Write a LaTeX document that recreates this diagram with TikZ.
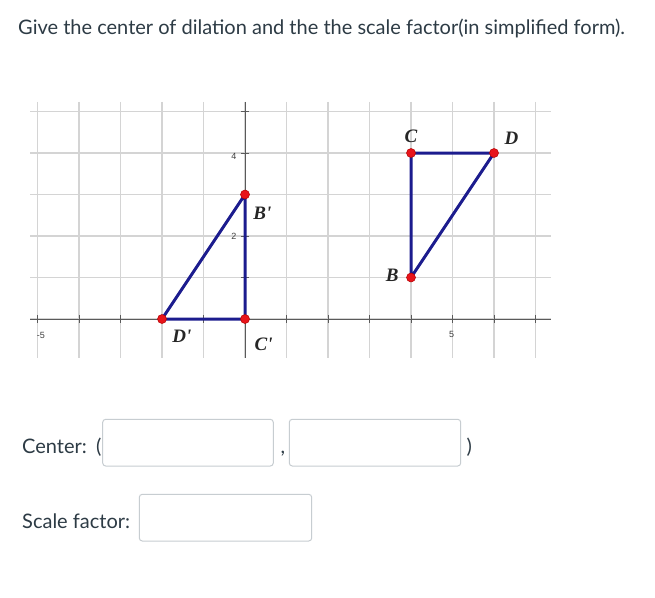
\documentclass[tikz,border=0pt]{standalone}
\usepackage{fontspec}
\setmainfont{Lato}
\newfontfamily\labfont{Liberation Serif}
\newfontfamily\tickfont{Liberation Sans}
\definecolor{txt}{HTML}{2D3B45}
\definecolor{gridc}{HTML}{D4D4D4}
\definecolor{axisc}{HTML}{5A5A5A}
\definecolor{navy}{HTML}{1C1C8E}
\definecolor{ptred}{HTML}{E8141B}
\definecolor{boxc}{HTML}{C7CDD1}
\tikzset{
  qtext/.style={text=txt, inner sep=0pt, font=\fontsize{20}{24}\selectfont},
  ansbox/.style={draw=boxc, line width=1pt, rounded corners=3pt},
  gridline/.style={draw=gridc, line width=1.3pt},
  axisline/.style={draw=axisc, line width=0.9pt},
  tri/.style={draw=navy, line width=3pt, line join=round},
  ptdot/.style={circle, fill=ptred, draw=red!70!black, line width=0.5pt, minimum size=9pt, inner sep=0pt},
  vlab/.style={font=\labfont\bfseries\itshape\fontsize{19}{22}\selectfont, text=black!85, inner sep=0pt},
  ticklab/.style={font=\tickfont\fontsize{9}{10}\selectfont, text=black!75, inner sep=0pt},
}
\begin{document}
\begin{tikzpicture}[x=1pt,y=-1pt]
\useasboundingbox (0,0) rectangle (655,597);
\fill[white] (0,0) rectangle (655,597);
% title
\node[qtext, anchor=base west] (title) at (18,34) {Give the center of dilation and the the scale factor(in simplified form).};
% graph
\begin{scope}[shift={(245,319)}, x=41.5pt, y=41.5pt]
  \foreach \yy in {0,...,5} \draw[gridline] (-5.18,\yy) -- (7.37,\yy);
  \foreach \xx in {-5,...,7} \draw[gridline] (\xx,5.23) -- (\xx,-0.94);
  \draw[axisline] (-5.18,0) -- (7.37,0);
  \draw[axisline] (0,5.23) -- (0,-0.94);
  \foreach \xx in {-5,...,7} \draw[axisline] (\xx,0.1) -- (\xx,-0.1);
  \foreach \yy in {1,...,5} \draw[axisline] (-0.1,\yy) -- (0.1,\yy);
  \node[ticklab] (t4) at (-0.27,3.93) {4};
  \node[ticklab] (t2) at (-0.27,1.98) {2};
  \node[ticklab] (tm5) at (-4.92,-0.39) {-5};
  \node[ticklab] (t5) at (4.98,-0.37) {5};
  % image triangle
  \coordinate (Bp) at (0,3);
  \coordinate (Cp) at (0,0);
  \coordinate (Dp) at (-2,0);
  % original triangle
  \coordinate (B) at (4,1);
  \coordinate (C) at (4,4);
  \coordinate (D) at (6,4);
  \draw[tri] (Bp) -- (Cp) -- (Dp) -- cycle;
  \draw[tri] (B) -- (C) -- (D) -- cycle;
  \foreach \p in {Bp,Cp,Dp,B,C,D} \node[ptdot] (n\p) at (\p) {};
  \node[vlab] (lBp) at (0.42,2.55) {B\textquotesingle};
  \node[vlab] (lCp) at (0.45,-0.62) {C\textquotesingle};
  \node[vlab] (lDp) at (-1.52,-0.42) {D\textquotesingle};
  \node[vlab] (lB) at (3.55,1.05) {B};
  \node[vlab] (lC) at (4.0,4.4) {C};
  \node[vlab] (lD) at (6.42,4.35) {D};
\end{scope}
% answer area
\node[qtext, anchor=base west] (center) at (22,453) {Center:};
\node[qtext, anchor=base west] (lpar) at (96,453) {(};
\draw[ansbox] (102.7,419.3) rectangle (273.3,466) node (bx) {};
\node[qtext, anchor=base west] (comma) at (280.5,453) {,};
\draw[ansbox] (289.3,419.3) rectangle (460.7,466) node (by) {};
\node[qtext, anchor=base west] (rpar) at (466.5,453) {)};
\node[qtext, anchor=base west] (scale) at (22,528) {Scale factor:};
\draw[ansbox] (139.3,494.3) rectangle (311.7,541) node (bs) {};
\end{tikzpicture}
\end{document}
